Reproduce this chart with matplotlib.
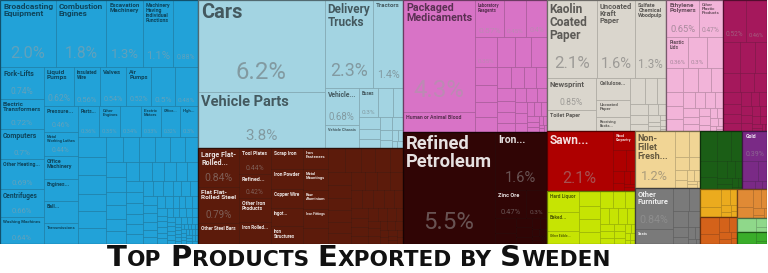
"""Treemap of the top products exported by Sweden."""

import matplotlib
matplotlib.use('Agg')
import matplotlib.colors as mcolors
import matplotlib.pyplot as plt
from matplotlib.patches import Rectangle

PHI = (1 + 5 ** 0.5) / 2
FONT = ['Liberation Sans Narrow', 'Roboto', 'DejaVu Sans']

# ---- data (share of exports, %) -------------------------------------------
machines_names = [
    'Broadcasting\nEquipment', 'Combustion\nEngines', 'Excavation\nMachinery',
    'Machinery\nHaving\nIndividual\nFunctions', '',
    'Fork-Lifts', 'Electric\nTransformers', 'Computers', 'Other Heating...',
    'Centrifuges', 'Washing Machines',
    'Liquid\nPumps', 'Insulated\nWire', 'Valves', 'Air\nPumps', '', '',
    'Pressure...', 'Metal\nWorking Lathes', 'Office\nMachinery', 'Engines...',
    'Ball...', 'Transmissions', 'Parts...', 'Other\nEngines',
    'Air\nConditioners', 'Electric\nMotors', 'Office...', 'High...',
]
machines_values = [
    2.0, 1.8, 1.3, 1.1, 0.88,
    0.74, 0.72, 0.70, 0.69, 0.66, 0.64,
    0.62, 0.56, 0.54, 0.52, 0.50, 0.48, 0.46,
    0.44, 0.42, 0.40, 0.39, 0.38, 0.36, 0.35, 0.34, 0.33, 0.32,
    0.30, 0.29, 0.28, 0.27, 0.26, 0.25, 0.24, 0.23, 0.22, 0.21,
    0.20, 0.19, 0.18, 0.17, 0.16, 0.15, 0.15, 0.14, 0.14, 0.13,
    0.13, 0.12, 0.12, 0.11, 0.11, 0.10, 0.10, 0.10, 0.09, 0.09,
    0.09, 0.08, 0.08, 0.08, 0.07, 0.07, 0.07, 0.06, 0.06, 0.06,
    0.06, 0.05, 0.05, 0.05, 0.05, 0.04, 0.04, 0.04, 0.04, 0.04,
    0.03, 0.03, 0.03, 0.03, 0.03, 0.03, 0.03, 0.03, 0.03, 0.03,
    0.02, 0.02, 0.02, 0.02, 0.02, 0.02, 0.02, 0.02, 0.02, 0.02,
    0.01, 0.01, 0.01, 0.01, 0.01, 0.01, 0.01, 0.01, 0.01, 0.01,
    0.01, 0.01, 0.01, 0.01, 0.01, 0.01, 0.01, 0.01, 0.01, 0.01,
    0.01, 0.01, 0.01, 0.01, 0.01,
]

transport_names = ['Cars', 'Vehicle Parts', 'Delivery\nTrucks', 'Tractors',
                   'Vehicle...', 'Vehicle Chassis', 'Buses']
transport_values = [6.2, 3.8, 2.3, 1.4, 0.68, 0.42, 0.30, 0.22, 0.16, 0.13,
                    0.12, 0.10, 0.08, 0.07, 0.06, 0.05, 0.04, 0.03, 0.02, 0.02]

metals_names = [
    'Large Flat-\nRolled...', 'Flat Flat-\nRolled Steel', 'Other Steel Bars',
    'Tool Plates', 'Refined...', 'Other Iron\nProducts', 'Iron Rolled...',
    'Scrap Iron', 'Iron Powder', 'Copper Wire', 'Ingot...', 'Iron\nStructures',
    'Iron\nFasteners', 'Metal\nMountings', 'Raw\nAluminium', 'Iron Fittings',
]
metals_values = [
    0.84, 0.79, 0.45, 0.44, 0.42, 0.40, 0.38, 0.36, 0.34, 0.32, 0.31, 0.30,
    0.29, 0.28, 0.27, 0.26,
    0.22, 0.21, 0.20, 0.19, 0.18, 0.17, 0.16, 0.15, 0.15, 0.14, 0.14, 0.13,
    0.13, 0.12, 0.12, 0.12, 0.11, 0.11, 0.10, 0.10, 0.09, 0.09, 0.08, 0.08,
    0.07, 0.07, 0.06, 0.06, 0.05, 0.05, 0.05, 0.05, 0.04, 0.04, 0.04, 0.03,
    0.03, 0.03, 0.02, 0.02, 0.02, 0.02,
]

chemicals_names = ['Packaged\nMedicaments', 'Human or Animal Blood',
                   'Laboratory\nReagents']
chemicals_values = [
    4.3, 0.77, 0.57, 0.45, 0.40, 0.35, 0.28, 0.26, 0.24, 0.22, 0.20, 0.18,
    0.17, 0.16, 0.15, 0.14, 0.13, 0.12, 0.11, 0.10, 0.09, 0.08, 0.08, 0.07,
    0.07, 0.06, 0.06, 0.05, 0.05, 0.04, 0.04, 0.03, 0.03, 0.02, 0.02,
    0.01, 0.01, 0.01,
]

mineral_names = ['Refined\nPetroleum', 'Iron...', 'Zinc Ore']
mineral_values = [5.5, 1.6, 0.47, 0.30, 0.18, 0.12, 0.08, 0.08, 0.06, 0.05,
                  0.04, 0.03, 0.03, 0.02, 0.02, 0.01, 0.01]

paper_names = ['Kaolin\nCoated\nPaper', 'Uncoated\nKraft\nPaper',
               'Sulfate\nChemical\nWoodpulp', 'Newsprint', 'Toilet Paper',
               'Cellulose...', 'Uncoated\nPaper', 'Receiving\nBooks...']
paper_values = [2.1, 1.6, 1.3, 0.85, 0.56, 0.40, 0.30, 0.26, 0.20, 0.16, 0.13,
                0.11, 0.09, 0.07, 0.06, 0.05, 0.04, 0.03, 0.03, 0.02, 0.02,
                0.01, 0.01]

plastics_names = ['Ethylene\nPolymers', 'Other\nPlastic\nProducts', 'Plastic\nLids']
plastics_values = [0.65, 0.47, 0.36, 0.30, 0.26, 0.22, 0.19, 0.17, 0.15, 0.13,
                   0.12, 0.11, 0.10, 0.09, 0.08, 0.07, 0.07, 0.06, 0.06, 0.05,
                   0.05, 0.04, 0.04, 0.03, 0.03, 0.02, 0.02, 0.01, 0.01]

instruments_names = []
instruments_values = [0.52, 0.46, 0.30, 0.25, 0.20, 0.17, 0.15, 0.13, 0.11,
                      0.10, 0.09, 0.08, 0.07, 0.06, 0.06, 0.05, 0.05, 0.05,
                      0.04, 0.04, 0.03, 0.03, 0.02, 0.02, 0.01, 0.01]

wood_names = ['Sawn...', 'Wood\nCarpentry']
wood_values = [2.1, 0.22, 0.15, 0.10, 0.07, 0.05, 0.04, 0.03, 0.02, 0.02]

food_names = ['Hard Liquor', 'Baked...', 'Other Edible...']
food_values = [0.36, 0.34, 0.22, 0.16, 0.15, 0.14, 0.13, 0.12, 0.11, 0.09,
               0.08, 0.08, 0.07, 0.07, 0.06, 0.05, 0.05, 0.04, 0.04, 0.03,
               0.03, 0.02, 0.02, 0.02, 0.01, 0.01]

animal_names = ['Non-\nFillet\nFresh...']
animal_values = [1.2, 0.20, 0.14, 0.10, 0.08, 0.06, 0.05, 0.04, 0.03, 0.02,
                 0.02, 0.01]

misc_names = ['Other\nFurniture', 'Seats']
misc_values = [0.84, 0.30, 0.20, 0.14, 0.12, 0.10, 0.08, 0.06, 0.05, 0.03,
               0.02, 0.01]

vegetable_names = []
vegetable_values = [0.28, 0.22, 0.18, 0.14, 0.11, 0.09, 0.07, 0.06, 0.05,
                    0.04, 0.03, 0.02, 0.01]

precious_names = ['Gold']
precious_values = [0.39, 0.16, 0.10, 0.05, 0.03, 0.02]

textiles_values = [0.20, 0.12, 0.08, 0.06, 0.04, 0.03, 0.02, 0.02]
stone_values = [0.18, 0.10, 0.08, 0.06, 0.04, 0.03, 0.02, 0.02]
hides_values = [0.16, 0.10, 0.08, 0.06, 0.04, 0.02, 0.02]
footwear_values = [0.14, 0.05, 0.03]
bi_products_values = [0.12, 0.05, 0.02]

categories = [
    ('Machines', '#22a2d8', machines_names, machines_values),
    ('Transportation', '#a3d4e2', transport_names, transport_values),
    ('Metals', '#5c1b0b', metals_names, metals_values),
    ('Chemical Products', '#d873c6', chemicals_names, chemicals_values),
    ('Mineral Products', '#300505', mineral_names, mineral_values),
    ('Paper Goods', '#dad6cd', paper_names, paper_values),
    ('Plastics and Rubbers', '#f2b4d9', plastics_names, plastics_values),
    ('Instruments', '#a5185c', instruments_names, instruments_values),
    ('Wood Products', '#ae0000', wood_names, wood_values),
    ('Foodstuffs', '#c6e403', food_names, food_values),
    ('Animal Products', '#f1d595', animal_names, animal_values),
    ('Miscellaneous', '#7a7a7a', misc_names, misc_values),
    ('Vegetable Products', '#1b5e16', vegetable_names, vegetable_values),
    ('Precious Metals', '#7a2a86', precious_names, precious_values),
    ('Textiles', '#ebab1e', [], textiles_values),
    ('Stone and Glass', '#d4621a', [], stone_values),
    ('Animal Hides', '#e08a35', [], hides_values),
    ('Footwear and Headwear', '#8fd88a', [], footwear_values),
    ('Animal and Vegetable Bi-Products', '#3aad2a', [], bi_products_values),
]

TITLE = 'Top Products Exported by Sweden'


def squarify(values, x0, y0, x1, y1):
    """d3-style squarified layout; values must be sorted descending."""
    rects = [None] * len(values)
    n = len(values)
    value = float(sum(values))
    i0 = i1 = 0
    while i0 < n:
        dx, dy = x1 - x0, y1 - y0
        sum_v = values[i1]
        i1 += 1
        min_v = max_v = sum_v
        alpha = max(dy / dx, dx / dy) / (value * PHI)
        beta = sum_v * sum_v * alpha
        min_ratio = max(max_v / beta, beta / min_v)
        while i1 < n:
            v = values[i1]
            sum_v += v
            min_v = min(min_v, v)
            max_v = max(max_v, v)
            beta = sum_v * sum_v * alpha
            new_ratio = max(max_v / beta, beta / min_v)
            if new_ratio > min_ratio:
                sum_v -= v
                break
            min_ratio = new_ratio
            i1 += 1
        if dx < dy:
            yb = y1 if i1 >= n else y0 + dy * sum_v / value
            x = x0
            for i in range(i0, i1):
                w = dx * values[i] / sum_v
                rects[i] = (x, y0, x + w, yb)
                x += w
            y0 = yb
        else:
            xb = x1 if i1 >= n else x0 + dx * sum_v / value
            y = y0
            for i in range(i0, i1):
                h = dy * values[i] / sum_v
                rects[i] = (x0, y, xb, y + h)
                y += h
            x0 = xb
        value -= sum_v
        i0 = i1
    return rects


def mix(color, other, t):
    a = mcolors.to_rgb(color)
    b = mcolors.to_rgb(other)
    return tuple(a[i] * (1 - t) + b[i] * t for i in range(3))


def luminance(color):
    r, g, b = mcolors.to_rgb(color)
    return 0.299 * r + 0.587 * g + 0.114 * b


def fitted_text(ax, renderer, x, y, s, size_px, max_w, max_h, min_px, **kw):
    text = ax.text(x, y, s, fontsize=size_px * 0.72, family=FONT,
                   linespacing=1.0, **kw)
    box = text.get_window_extent(renderer)
    scale = min(1.0, max_w / max(box.width, 1e-6), max_h / max(box.height, 1e-6))
    if size_px * scale < min_px:
        text.remove()
        return None
    text.set_fontsize(size_px * scale * 0.72)
    return text


def pct_label(v):
    if v >= 1:
        return f'{v:.1f}%'
    return f'{v:.2g}%' if v >= 0.1 else f'{v:.2f}%'


def draw_tile(ax, renderer, rect, color, name, value):
    x0, y0, x1, y1 = rect
    w, h = x1 - x0, y1 - y0
    ax.add_patch(Rectangle((x0, y0), w, h, facecolor=color,
                           edgecolor=mix(color, 'black', 0.22), linewidth=0.5))
    lum = luminance(color)
    dark = lum < 0.49
    name_color = mix(color, 'white', 0.88) if dark else mix(color, 'black', 0.58)
    # very pale tiles get a darker grey figure, the rest a lighter one
    pct_color = mix(color, '#606060' if lum > 0.65 else '#a0a0a0', 0.5)
    area = w * h
    if name:
        size = min(20, h * 0.26, area ** 0.5 * 0.19)
        fitted_text(ax, renderer, x0 + 3, y0 + 3, name, size, w - 6, h * 0.6,
                    3.2, color=name_color, fontweight='bold', ha='left',
                    va='top')
    if area >= 500 and h >= 24 and w >= 18:
        size = min(24, h * 0.27, area ** 0.5 * 0.27)
        fitted_text(ax, renderer, x0 + w / 2, y1 - 0.09 * h, pct_label(value),
                    size, (w - 4) * 0.9, h * 0.4, 4.0, color=pct_color,
                    ha='center', va='bottom')


def draw_title(fig, renderer, text, center_x, baseline_y, target_w):
    runs = []
    for ch in text:
        kind = 'space' if ch == ' ' else ('small' if ch.islower() else 'big')
        if runs and runs[-1][1] == kind:
            runs[-1][0] += ch.upper()
        else:
            runs.append([ch.upper(), kind])
    fig_w = fig.bbox.width

    def place(big_pt, start_px):
        x = start_px
        artists = []
        for s, kind in runs:
            if kind == 'space':
                x += big_pt * 100 / 72 * 0.3
                continue
            pt = big_pt if kind == 'big' else big_pt * 0.74
            t = fig.text(x / fig_w, baseline_y, s, fontsize=pt,
                         family=['DejaVu Sans'], fontweight='heavy',
                         color='#111111', va='baseline', ha='left')
            x += t.get_window_extent(renderer).width
            artists.append(t)
        return artists, x - start_px

    artists, width = place(17, 0)
    for a in artists:
        a.remove()
    big_pt = 17 * target_w / width
    artists, width = place(big_pt, 0)
    for a in artists:
        a.remove()
    place(big_pt, center_x - width / 2)


def main():
    fig = plt.figure(figsize=(7.68, 2.73), dpi=100)
    ax = fig.add_axes([0, 1 - 244 / 273, 767 / 768, 244 / 273])
    ax.set_xlim(0, 767)
    ax.set_ylim(244, 0)
    ax.axis('off')
    renderer = fig.canvas.get_renderer()

    groups = sorted(categories, key=lambda c: -sum(c[3]))
    group_rects = squarify([sum(g[3]) for g in groups], 0, 0, 767, 244)
    for (label, color, names, values), grect in zip(groups, group_rects):
        items = list(zip(values, names + [''] * (len(values) - len(names))))
        items.sort(key=lambda item: -item[0])
        rects = squarify([v for v, _ in items], *grect)
        for (value, name), rect in zip(items, rects):
            draw_tile(ax, renderer, rect, color, name, value)
        gx0, gy0, gx1, gy1 = grect
        ax.add_patch(Rectangle((gx0, gy0), gx1 - gx0, gy1 - gy0, fill=False,
                               edgecolor=mix(color, 'black', 0.5),
                               linewidth=0.9))

    draw_title(fig, renderer, TITLE, 359, 6.5 / 273, 505)
    fig.savefig('out.png', dpi=100, facecolor='white')


if __name__ == '__main__':
    main()
